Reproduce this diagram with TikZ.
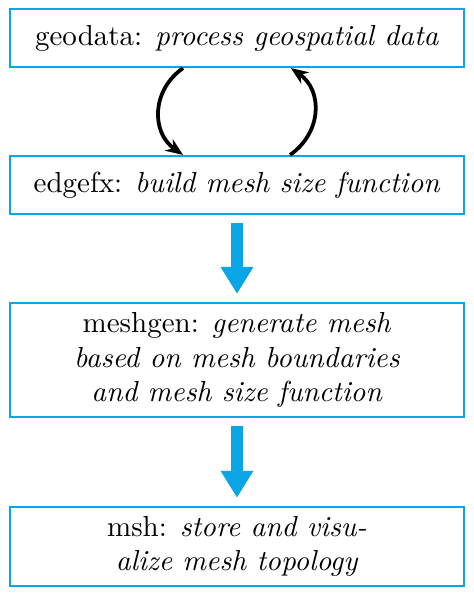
\documentclass[tikz,border=0pt]{standalone}
\usetikzlibrary{arrows.meta}
\definecolor{boxblue}{RGB}{10,165,228}
\begin{document}
\begin{tikzpicture}[x=0.345pt,y=-0.345pt,
        module/.style={draw=boxblue,line width=0.75pt,minimum width=156.6pt,align=center,inner sep=0pt},
        stagearrow/.style={boxblue,line width=3.8pt,-{Triangle[width=10.7pt,length=9.3pt]},shorten <=2.8pt,shorten >=2.8pt},
        feedback/.style={black,line width=1.3pt,-{Stealth[length=6pt,width=4.8pt]}}]
        \useasboundingbox (0,0) rectangle (474,597);

        \node[module,minimum height=20pt] (geodata) at (237,38) {geodata: \textit{process geospatial data}};
        \node[module,minimum height=20pt] (edgefx) at (237,185) {edgefx: \textit{build mesh size function}};
        \node[module,minimum height=39.3pt] (meshgen) at (237,360) {meshgen: \textit{generate mesh}\\ \textit{based on mesh boundaries}\\ \textit{and mesh size function}};
        \node[module,minimum height=27.3pt] (msh) at (237,546.5) {msh: \textit{store and visu-}\\ \textit{alize mesh topology}};

        \draw[feedback] ([xshift=-18.6pt]geodata.south) to[out=215,in=145,looseness=1.15] ([xshift=-18.6pt]edgefx.north);
        \draw[feedback] ([xshift=18.3pt]edgefx.north) to[out=35,in=-35,looseness=1.15] ([xshift=18.6pt]geodata.south);

        \draw[stagearrow] (edgefx) -- (meshgen);
        \draw[stagearrow] (meshgen) -- (msh);
    \end{tikzpicture}
\end{document}
